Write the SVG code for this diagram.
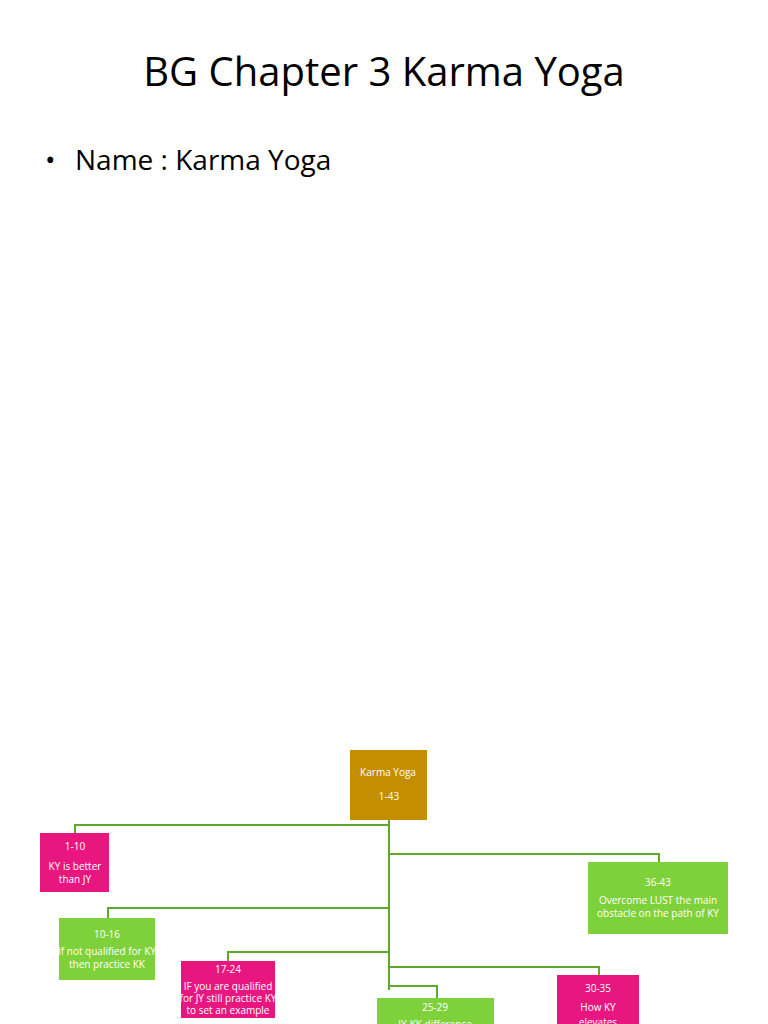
<svg xmlns="http://www.w3.org/2000/svg" width="768" height="1024" viewBox="0 0 768 1024">
<style>
text{font-family:"Open Sans","Liberation Sans",sans-serif;}
.t{fill:#fff;font-size:10px;text-anchor:middle;}
.p{fill:#e8177f;}
.g{fill:#7fd13b;}
.c{fill:none;stroke:#5fa82a;stroke-width:2;}
</style>
<rect width="768" height="1024" fill="#fff"/>
<text x="384" y="86" font-size="40" text-anchor="middle">BG Chapter 3 Karma Yoga</text>
<text x="45" y="170" font-size="28">•</text>
<text x="75" y="170" font-size="28">Name : Karma Yoga</text>
<g id="connectors">
<path class="c" d="M389 820V990M389 825H75V833M389 854H659V862M389 908H108V918M389 952H228V961M389 967H599V975M389 986H437V998"/>
</g>
<g id="root"><rect x="350" y="750" width="77" height="70" fill="#c38e00"/><text class="t" x="388" y="776" font-size="11">Karma Yoga</text><text class="t" x="389" y="800" font-size="11">1-43</text></g>
<g id="n1"><rect class="p" x="40" y="833" width="69" height="59"/><text class="t" x="75" y="850">1-10</text><text class="t" x="75" y="870">KY is better</text><text class="t" x="75" y="883">than  JY</text></g>
<g id="n2"><rect class="g" x="588" y="862" width="140" height="72"/><text class="t" x="658" y="886">36-43</text><text class="t" x="658" y="904">Overcome LUST the main</text><text class="t" x="658" y="917">obstacle on the path of KY</text></g>
<g id="n3"><rect class="g" x="59" y="918" width="96" height="62"/><text class="t" x="107" y="938">10-16</text><text class="t" x="107" y="955">If not qualified for KY</text><text class="t" x="107" y="968">then practice KK</text></g>
<g id="n4"><rect class="p" x="181" y="961" width="94" height="57"/><text class="t" x="228" y="973">17-24</text><text class="t" x="228" y="990" font-size="9">IF you are qualified</text><text class="t" x="228" y="1002" font-size="9">for JY still practice KY</text><text class="t" x="228" y="1014" font-size="9">to set an example</text></g>
<g id="n5"><rect class="p" x="557" y="975" width="82" height="55"/><text class="t" x="598" y="992" font-size="11">30-35</text><text class="t" x="598" y="1011" font-size="11">How KY</text><text class="t" x="598" y="1026" font-size="11">elevates</text></g>
<g id="n6"><rect class="g" x="377" y="998" width="117" height="30"/><text class="t" x="435" y="1011">25-29</text><text class="t" x="435" y="1028">JY-KK difference</text></g>
</svg>
